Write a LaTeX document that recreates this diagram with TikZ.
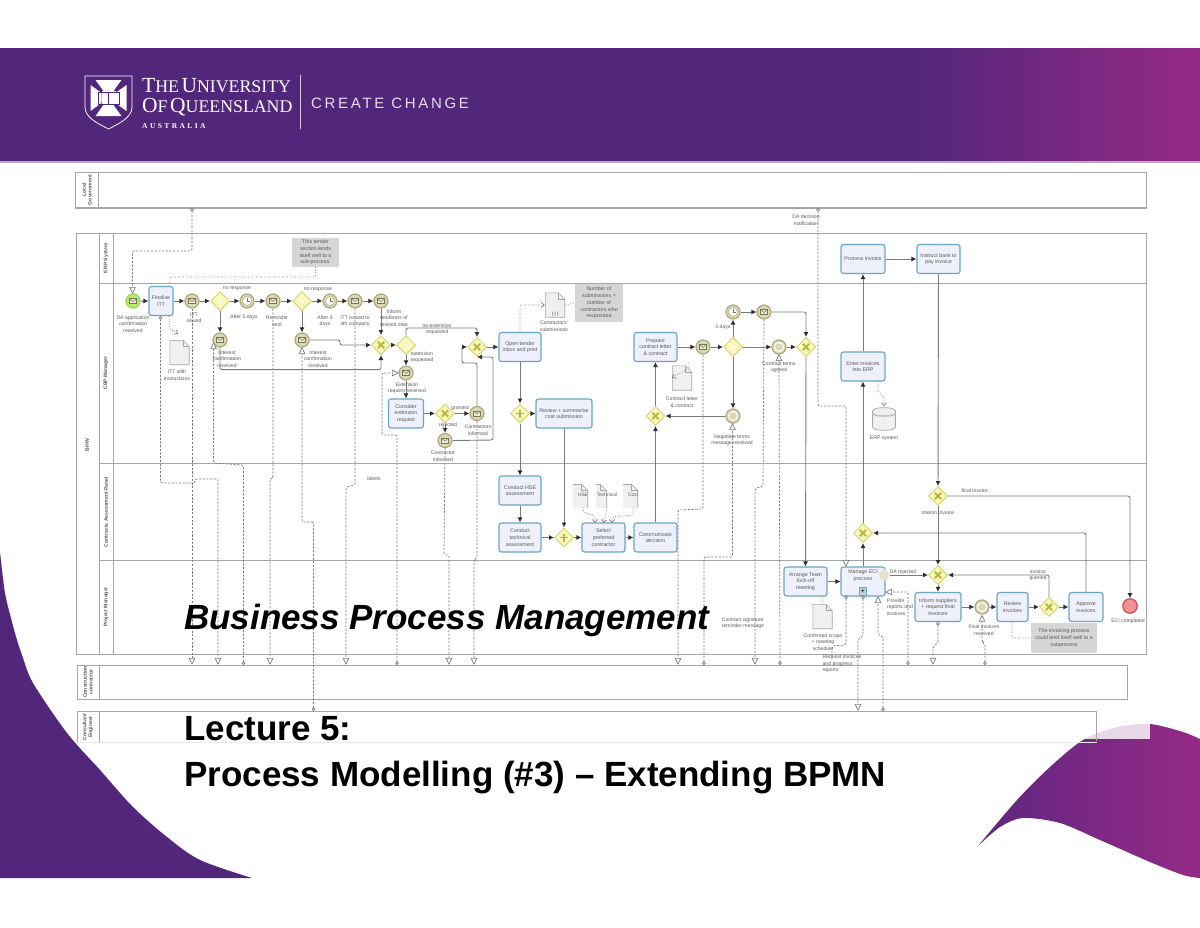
\documentclass[tikz,border=0pt]{standalone}
\usepackage{fontspec}
\setmainfont{Liberation Sans}
\newfontfamily\uqserif{Liberation Serif}
\newfontfamily\uqspaced[LetterSpace=32]{Liberation Serif}
\newfontfamily\uqcreate[LetterSpace=18]{Liberation Sans}
\usepackage{tikz}
\usetikzlibrary{arrows.meta}
\usetikzlibrary{shapes.geometric}
\definecolor{uqpurple}{HTML}{52267A}
\definecolor{uqmagenta}{HTML}{952A87}
\definecolor{swoopleft}{HTML}{5E2680}
\definecolor{poolline}{HTML}{A6A6A6}
\definecolor{flowline}{HTML}{7A7A7A}
\definecolor{tipdark}{HTML}{2E2E2E}
\definecolor{msgline}{HTML}{7C7C7C}
\definecolor{taskfill}{HTML}{EEF0FB}
\definecolor{taskline}{HTML}{6AA6C9}
\definecolor{evtfill}{HTML}{DAD7B4}
\definecolor{evtline}{HTML}{ACA97A}
\definecolor{gatefill}{HTML}{F9F8BE}
\definecolor{gateline}{HTML}{D6D66E}
\definecolor{gatemark}{HTML}{B8B83C}
\definecolor{labeltext}{HTML}{5A5A5A}
\definecolor{notefill}{HTML}{D6D6D6}
\definecolor{docfill}{HTML}{F0F0F0}
\definecolor{startfill}{HTML}{B9EC6E}
\definecolor{startline}{HTML}{9AD45A}
\definecolor{endfill}{HTML}{F09292}
\definecolor{endline}{HTML}{C85050}
\newcommand{\logobig}{\fontsize{21.5}{21.5}\selectfont}
\newcommand{\logosmall}{\fontsize{17.8}{17.8}\selectfont}
\tikzset{
  tasknode/.style={rectangle, rounded corners=2.5pt, draw=taskline, fill=taskfill, line width=1.1pt, minimum height=29pt, inner sep=0.5pt, align=center, text=labeltext, font=\fontsize{5.3}{6.6}\selectfont},
  evtbase/.style={circle, draw=evtline, fill=evtfill, line width=1.2pt, minimum size=14pt, inner sep=0pt},
  evtmail/.style={evtbase, path picture={
    \begin{scope}[shift={(path picture bounding box.center)}]
      \draw[evtline!70!black, line width=0.5pt, fill=evtfill!50!white] (-3.5,-2.5) rectangle (3.5,2.5);
      \draw[evtline!70!black, line width=0.5pt] (-3.5,-2.5) -- (0,0.5) -- (3.5,-2.5);
    \end{scope}}},
  evttimer/.style={evtbase, path picture={
    \begin{scope}[shift={(path picture bounding box.center)}]
      \draw[evtline, line width=0.5pt, fill=white] (0,0) circle (4.5);
      \draw[evtline!70!black, line width=0.5pt] (0,-3) -- (0,0) -- (2.5,0);
    \end{scope}}},
  evtring/.style={evtbase, path picture={
    \draw[white, line width=1pt] (path picture bounding box.center) circle (4.5);}},
  gatebase/.style={diamond, aspect=1, draw=gateline, fill=gatefill, line width=1pt, minimum size=19pt, inner sep=0pt},
  gatexor/.style={gatebase, path picture={
    \begin{scope}[shift={(path picture bounding box.center)}]
      \draw[gatemark, line width=1.8pt] (-3.2,-3.2) -- (3.2,3.2) (-3.2,3.2) -- (3.2,-3.2);
    \end{scope}}},
  gateand/.style={gatebase, path picture={
    \begin{scope}[shift={(path picture bounding box.center)}]
      \draw[gatemark, line width=1.8pt] (-4,0) -- (4,0) (0,-4) -- (0,4);
    \end{scope}}},
  gatepale/.style={gatebase, path picture={
    \fill[white] (path picture bounding box.center) circle (1.5);}},
  docnode/.style={rectangle, minimum width=20pt, minimum height=25pt, inner sep=0pt, text=labeltext, font=\fontsize{4.8}{5.5}\selectfont, path picture={
    \begin{scope}[shift={(path picture bounding box.center)}]
      \draw[poolline, line width=0.6pt, fill=docfill] (-9.7,-12.2) -- (3.5,-12.2) -- (9.7,-6) -- (9.7,12.2) -- (-9.7,12.2) -- cycle;
      \draw[poolline, line width=0.5pt] (3.5,-12.2) -- (3.5,-6) -- (9.7,-6);
    \end{scope}}},
  dbnode/.style={rectangle, minimum width=24pt, minimum height=25pt, inner sep=0pt, path picture={
    \begin{scope}[shift={(path picture bounding box.center)}]
      \draw[poolline, line width=0.7pt, fill=docfill] (-11.5,-8) .. controls (-11.5,-12.5) and (11.5,-12.5) .. (11.5,-8) -- (11.5,8) .. controls (11.5,12.5) and (-11.5,12.5) .. (-11.5,8) -- cycle;
      \draw[poolline!70!white, line width=1.6pt] (-11.5,-6) .. controls (-11.5,-2) and (11.5,-2) .. (11.5,-6);
    \end{scope}}},
  notebox/.style={rectangle, fill=notefill, inner sep=1pt, align=center, text=labeltext, font=\fontsize{5.3}{6.7}\selectfont},
  lbl/.style={inner sep=0pt, align=center, text=labeltext, font=\fontsize{5.1}{6.5}\selectfont},
  lanelbl/.style={rotate=90, inner sep=0pt, align=center, text=labeltext, font=\bfseries\fontsize{5.1}{5.8}\selectfont},
  poolbox/.style={draw=poolline, line width=1pt},
  seqflow/.style={draw=flowline, line width=0.9pt, rounded corners=2pt, -{Latex[length=5pt,width=5pt,color=tipdark]}},
  msgflow/.style={draw=msgline, line width=0.7pt, dash pattern=on 2.2pt off 1.5pt, rounded corners=2pt},
  msgto/.style={msgflow, -{Triangle[open,length=7pt,width=6.5pt,fill=white]}},
  msgfrom/.style={msgflow, {Circle[open,length=3.6pt,fill=white]}-},
  msgboth/.style={msgflow, {Circle[open,length=3.6pt,fill=white]}-{Triangle[open,length=7pt,width=6.5pt,fill=white]}},
  assoc/.style={draw=msgline, line width=0.7pt, dash pattern=on 0.8pt off 1.8pt, rounded corners=2pt},
  assocto/.style={assoc, -{Straight Barb[length=3pt,width=5pt]}},
  titlebold/.style={inner sep=0pt, anchor=base west, font=\bfseries\fontsize{35}{38}\selectfont}
}
\begin{document}
\begin{tikzpicture}[x=1pt, y=-1pt]
  \useasboundingbox (0,0) rectangle (1200,927);
  \fill[white] (0,0) rectangle (1200,927);

  \fill[uqpurple] (0,48) rectangle (1200,161);
  \shade[left color=uqpurple, right color=uqmagenta] (910,48) rectangle (1200,161);
  \fill[uqpurple!40!white] (0,161) rectangle (1200,162.5);
  \fill[white] (0,162.5) rectangle (1200,165);
  \fill[uqpurple] plot[smooth] coordinates {(0,552) (5,593) (12,622) (17,640) (22,655) (33,683) (67,733) (100,770) (133,807) (167,837) (200,860) (252,878)} -- (0,878) -- cycle;
  \shade[left color=swoopleft, right color=uqmagenta] plot[smooth] coordinates {(978,846) (1017,800) (1050,767) (1083,740) (1117,727) (1150,724) (1183,732) (1200,739)} -- (1200,878) -- plot[smooth] coordinates {(1200,878) (1183,875) (1150,862) (1100,840) (1060,823) (1023,818) (1000,827) (978,846)} -- cycle;
  \fill[white, opacity=0.82] (1085,722) rectangle (1150,739);

  \draw[white, line width=0.8pt] (85,76) -- (132,76) -- (132,107) .. controls (132,118) and (118,124) .. (108.5,129) .. controls (99,124) and (85,118) .. (85,107) -- cycle;
  \foreach \a in {0,90,180,270}
    \fill[white, rotate around={\a:(108.5,98)}] (95.5,80) -- (121.5,80) -- (113.5,91) -- (103.5,91) -- cycle;
  \fill[white] (101.5,91) rectangle (115.5,105);
  \draw[uqpurple, line width=0.7pt] (98,92) rectangle (119,104) (108.5,92) -- (108.5,104);
  \node[inner sep=0pt, anchor=base west, text=white] (logoa) at (142,92) {\uqserif {\logobig T}{\logosmall HE} {\logobig U}{\logosmall NIVERSITY}};
  \node[inner sep=0pt, anchor=base west, text=white] (logob) at (142,112.5) {\uqserif {\logobig O}{\logosmall F} {\logobig Q}{\logosmall UEENSLAND}};
  \node[inner sep=0pt, anchor=base west, text=white, font=\bfseries\fontsize{7.5}{8}\selectfont] (logoc) at (142,128) {\uqspaced AUSTRALIA};
  \draw[white!75!uqpurple, line width=0.6pt] (300.5,75) -- (300.5,129);
  \node[inner sep=0pt, anchor=base west, text=white!85!uqpurple, font=\fontsize{15}{16}\selectfont] (create) at (311,108) {\uqcreate CREATE CHANGE};

  \draw[poolbox] (75,172) rectangle (1146,208);
  \draw[poolbox] (98,172) -- (98,208);
  \draw[poolline, line width=1.4pt] (75,208) -- (1146,208);
  \node[lanelbl] (lgov) at (87,190) {Local\\Government};

  \draw[poolbox] (76,233) rectangle (1146,654.5);
  \draw[poolbox] (99,233) -- (99,654.5);
  \draw[poolbox] (113,233) -- (113,654.5);
  \draw[poolbox] (99,283) -- (1146,283);
  \draw[poolbox] (99,463) -- (1146,463);
  \draw[poolbox] (99,560) -- (1146,560);
  \node[lanelbl] (bhw) at (87,445) {BHW};
  \node[lanelbl] (lanea) at (106,258) {ERP System};
  \node[lanelbl] (laneb) at (106,373) {CBP Manager};
  \node[lanelbl] (lanec) at (106,512) {Contracts Assessment Panel};
  \node[lanelbl] (laned) at (106,607) {Project Manager};

  \draw[poolbox] (77,665) rectangle (1127,699);
  \draw[poolbox] (99.5,665) -- (99.5,699);
  \node[lanelbl] (pcc) at (88,682) {Construction\\contractor};

  \draw[poolline, line width=1pt] (77,742) -- (77,711) -- (1096.5,711) -- (1096.5,741);
  \draw[poolline, line width=1pt] (99.5,711) -- (99.5,742);
  \draw[poolline!25!white, line width=0.6pt] (77,742) -- (1096.5,742);
  \node[lanelbl] (pce) at (88,727) {Consultant\\Engineer};

  \coordinate (lgova) at (192,208);
  \coordinate (lgovb) at (818,208);
  \coordinate (cca) at (192,665);
  \coordinate (ccb) at (218,665);
  \coordinate (ccc) at (243.5,665);
  \coordinate (ccd) at (270,665);
  \coordinate (cce) at (346,665);
  \coordinate (ccf) at (397,665);
  \coordinate (ccg) at (449,665);
  \coordinate (cch) at (474,665);
  \coordinate (cci) at (678,665);
  \coordinate (ccj) at (704,665);
  \coordinate (cck) at (755,665);
  \coordinate (ccl) at (780,665);
  \coordinate (ccm) at (908,665);
  \coordinate (ccn) at (933,665);
  \coordinate (cco) at (985,665);
  \coordinate (cea) at (313.5,711);
  \coordinate (ceb) at (858,711);
  \coordinate (cec) at (883,711);

  \node[evtmail, draw=startline, fill=startfill] (start) at (133,301) {};
  \node[tasknode, minimum width=24pt, right of=start, node distance=28pt] (finalise) {Finalise\\ITT};
  \node[evtmail, right of=finalise, node distance=31pt] (ittissued) {};
  \node[gatepale, right of=ittissued, node distance=28pt] (gatea) {};
  \node[evttimer, right of=gatea, node distance=27pt] (timera) {};
  \node[evtmail, right of=timera, node distance=26pt] (reminder) {};
  \node[gatepale, right of=reminder, node distance=29pt] (gateb) {};
  \node[evttimer, right of=gateb, node distance=28pt] (timerb) {};
  \node[evtmail, right of=timerb, node distance=25pt] (ittfour) {};
  \node[evtmail, right of=ittfour, node distance=26pt] (inform) {};
  \node[evtmail, below of=gatea, node distance=39pt] (interesta) {};
  \node[evtmail, below of=gateb, node distance=39pt] (interestb) {};
  \node[gatexor, below of=inform, node distance=44pt] (xora) {};
  \node[gatepale, right of=xora, node distance=25pt] (gatec) {};
  \node[evtmail, below of=gatec, node distance=28pt] (extreq) {};
  \node[tasknode, minimum width=35pt] (consider) at (406,413.5) {Consider\\extension\\request};
  \node[gatexor, right of=consider, node distance=39pt] (xorb) {};
  \node[evtmail, right of=xorb, node distance=32pt] (granted) {};
  \node[evtmail, below of=xorb, node distance=27pt] (rejected) {};
  \node[gatexor] (xorc) at (477,347) {};
  \node[tasknode, minimum width=42pt, right of=xorc, node distance=43pt] (opentender) {Open tender\\inbox and print};
  \node[gateand, below of=opentender, node distance=66.5pt] (anda) {};
  \node[tasknode, minimum width=56pt, right of=anda, node distance=44pt] (review) {Review + summarise\\cost submission};
  \node[tasknode, minimum width=42pt] (hse) at (520,490.5) {Conduct HSE\\assessment};
  \node[tasknode, minimum width=42pt, below of=hse, node distance=47pt] (technical) {Conduct\\technical\\assessment};
  \node[gateand, right of=technical, node distance=44pt] (andb) {};
  \node[tasknode, minimum width=43pt, right of=andb, node distance=39.5pt] (select) {Select\\preferred\\contractor};
  \node[tasknode, minimum width=43pt, right of=select, node distance=52pt] (communicate) {Communicate\\decision};
  \node[gatexor] (xord) at (655.5,416) {};
  \node[tasknode, minimum width=43pt] (prepare) at (655.5,347) {Prepare\\contract letter\\\& contract};
  \node[evtmail, right of=prepare, node distance=47.5pt] (sent) {};
  \node[gatepale, right of=sent, node distance=30pt] (gated) {};
  \node[evttimer, above of=gated, node distance=35pt] (timerc) {};
  \node[evtmail, right of=timerc, node distance=31pt] (chase) {};
  \node[evtring, right of=gated, node distance=46pt] (agreed) {};
  \node[gatexor, right of=agreed, node distance=27pt] (xore) {};
  \node[evtring, below of=gated, node distance=69pt] (negotiate) {};
  \node[tasknode, minimum width=43pt] (arrange) at (805.5,581.5) {Arrange Team\\Kick-off\\meeting};
  \node[tasknode, minimum width=44pt, right of=arrange, node distance=57.5pt] (manage) {Manage ECI\\process\\[6pt]};
  \node[rectangle, draw=taskline, fill=taskline!45!white, line width=0.7pt, minimum size=7.5pt, inner sep=0pt, font=\bfseries\fontsize{7}{7}\selectfont, text=tipdark] (subplus) at (863,591.5) {+};
  \node[evtbase, minimum size=10pt, draw=evtfill!60!white, fill=evtfill!75!white] (daboundary) at (884,575) {};
  \node[gatexor] (xorf) at (863,533) {};
  \node[tasknode, minimum width=44pt] (enter) at (863,366.5) {Enter invoices\\into ERP};
  \node[tasknode, minimum width=44pt] (process) at (863,259) {Process invoice};
  \node[tasknode, minimum width=43pt, right of=process, node distance=75.5pt] (instruct) {Instruct bank to\\pay invoice};
  \node[gatexor] (xorg) at (938,496) {};
  \node[gatexor] (xorh) at (938,575) {};
  \node[tasknode, minimum width=46pt] (suppliers) at (938,607) {Inform suppliers\\+ request final\\invoices};
  \node[evtring, right of=suppliers, node distance=44pt] (finalrecv) {};
  \node[tasknode, minimum width=31pt, right of=finalrecv, node distance=30.5pt] (reviewinv) {Review\\invoices};
  \node[gatexor, right of=reviewinv, node distance=36.5pt] (xori) {};
  \node[tasknode, minimum width=34pt, right of=xori, node distance=37pt] (approve) {Approve\\invoices};
  \node[circle, draw=endline, fill=endfill, line width=1.2pt, minimum size=14.5pt, inner sep=0pt] (finish) at (1130,606) {};

  \node[docnode] (docitt) at (179.5,352.5) {};
  \node[docnode] (docsub) at (555,305) {};
  \node[docnode] (docletter) at (682,378) {};
  \node[docnode] (dochse) at (583,495) {HSE};
  \node[docnode, minimum width=22pt] (doctech) at (607,495) {Technical};
  \node[docnode] (doccost) at (633,495) {Cost};
  \node[docnode] (docscope) at (822.5,616.5) {};
  \fill[poolline] (552,311.5) rectangle (553,315.5) (554.5,311.5) rectangle (555.5,315.5) (557,311.5) rectangle (558,315.5);
  \node[dbnode] (erpdb) at (884,419) {};

  \node[notebox, minimum width=47pt, minimum height=29pt] (notetender) at (315.5,252.5) {This tender\\section lends\\itself well to a\\sub-process.};
  \node[notebox, minimum width=48pt, minimum height=38pt] (notecount) at (599,303) {Number of\\submissions =\\number of\\contractors who\\responded};
  \node[notebox, minimum width=66pt, minimum height=30pt] (noteinvoice) at (1064,638) {The invoicing process\\could lend itself well to a\\subprocess};

  \draw[seqflow] (start) -- (finalise);
  \draw[seqflow] (finalise) -- (ittissued);
  \draw[seqflow] (ittissued) -- (gatea);
  \draw[seqflow] (gatea) -- (timera);
  \draw[seqflow] (timera) -- (reminder);
  \draw[seqflow] (reminder) -- (gateb);
  \draw[seqflow] (gateb) -- (timerb);
  \draw[seqflow] (timerb) -- (ittfour);
  \draw[seqflow] (ittfour) -- (inform);
  \draw[seqflow] (gatea) -- (interesta);
  \draw[seqflow] (gateb) -- (interestb);
  \draw[seqflow] (inform) -- (xora);
  \draw[seqflow] (interesta.south) -- ++(0,22) -| (xora.south);
  \draw[seqflow] (interestb.east) -- (340,340) -- (340,345) -- (xora.west);
  \draw[seqflow] (xora) -- (gatec);
  \draw[seqflow] (gatec) -- (extreq);
  \draw[seqflow] (extreq) -- (consider);
  \draw[seqflow] (gatec.north) -- ++(0,-7) -| (xorc.north);
  \draw[seqflow] (consider) -- (xorb);
  \draw[seqflow] (xorb) -- (granted);
  \draw[seqflow] (xorb) -- (rejected);
  \draw[seqflow] (granted.north) -- (477,363) -- (462,363) -- (462,347) -- (xorc.west);
  \draw[seqflow] (rejected.east) -- (493,440) -- (493,357) -- (xorc.south);
  \draw[seqflow] (xorc) -- (opentender);
  \draw[seqflow] (opentender) -- (anda);
  \draw[seqflow] (anda) -- (review);
  \draw[seqflow] (anda) -- (hse);
  \draw[seqflow] (hse) -- (technical);
  \draw[seqflow] (technical) -- (andb);
  \draw[seqflow] (review) -- (andb);
  \draw[seqflow] (andb) -- (select);
  \draw[seqflow] (select) -- (communicate);
  \draw[seqflow] (communicate) -- (xord);
  \draw[seqflow] (xord) -- (prepare);
  \draw[seqflow] (prepare) -- (sent);
  \draw[seqflow] (sent) -- (gated);
  \draw[seqflow] (gated) -- (timerc);
  \draw[seqflow] (gated) -- (negotiate);
  \draw[seqflow] (gated) -- (agreed);
  \draw[seqflow] (timerc) -- (chase);
  \draw[seqflow] (chase.east) -| (xore.north);
  \draw[seqflow] (agreed) -- (xore);
  \draw[seqflow] (negotiate) -- (xord);
  \draw[seqflow] (xore) -- (arrange);
  \draw[seqflow] (arrange) -- (manage);
  \draw[seqflow] (manage) -- (xorf);
  \draw[seqflow] (xorf) -- (enter);
  \draw[seqflow] (enter) -- (process);
  \draw[seqflow] (process) -- (instruct);
  \draw[seqflow] (instruct) -- (xorg);
  \draw[seqflow] (xorg.east) -| (finish.north);
  \draw[seqflow] (xorg) -- (xorh);
  \draw[seqflow] (daboundary) -- (xorh);
  \draw[seqflow] (xorh) -- (suppliers);
  \draw[seqflow] (suppliers) -- (finalrecv);
  \draw[seqflow] (finalrecv) -- (reviewinv);
  \draw[seqflow] (reviewinv) -- (xori);
  \draw[seqflow] (xori) -- (approve);
  \draw[seqflow] (xori.north) |- (xorh.east);
  \draw[seqflow] (approve.north) |- (xorf.east);

  \coordinate (startport) at (132.5,294);
  \coordinate (finalisea) at (160.5,316);
  \coordinate (intaport) at (213.5,342);
  \coordinate (intbport) at (302,347);
  \coordinate (extport) at (399,373);
  \coordinate (negport) at (732.5,423);
  \coordinate (agrport) at (779,354);
  \coordinate (ecia) at (846,595.5);
  \coordinate (ecib) at (863,595.5);
  \coordinate (ecic) at (878,596);
  \coordinate (ecid) at (885,592);
  \coordinate (topmanage) at (846,567);
  \coordinate (scopeend) at (832,657);

  \draw[msgboth] (lgova) -- (192,251) -- (132.5,251) -- (startport);
  \draw[msgboth] (lgovb) -- (818,406) -- (846,406) -- (topmanage);
  \draw[msgboth] (finalisea) -- (160.5,483) -- (195,483) -- (195,479) -- (218,479) -- (ccb);
  \draw[msgto] (ittissued.south) -- (cca);
  \draw[msgboth] (ccc) -- (243.5,465) -- (213.5,463) -- (intaport);
  \draw[msgto] (reminder.south) -- (273,478) -- (270,479) -- (ccd);
  \draw[msgboth] (cea) -- (313.5,522) -- (302,522) -- (intbport);
  \draw[msgto] (ittfour.south) -- (355,485) -- (346,487) -- (cce);
  \draw[msgboth] (ccf) -- (397,435) -- (382,435) -- (382,373) -- (extport);
  \draw[msgto] (rejected.south) -- (444,555) -- (449,555) -- (ccg);
  \draw[msgto] (granted.south) -- (477,559) -- (474,560) -- (cch);
  \draw[msgto] (sent.south) -- (703,509) -- (678,510) -- (cci);
  \draw[msgboth] (ccj) -- (704,557) -- (732.5,557) -- (negport);
  \draw[msgto] (chase.south) -- (763,487) -- (755,488) -- (cck);
  \draw[msgboth] (ccl) -- (agrport);
  \draw[msgfrom] (ecia) -- (846,645) -- (832,646) -- (scopeend);
  \draw[msgboth] (ecib) -- (863,637) -- (858,638) -- (ceb);
  \draw[msgboth] (cec) -- (883,636) -- (878,635) -- (ecic);
  \draw[msgboth] (ccm) -- (908,592) -- (ecid);
  \draw[msgboth] (suppliers.south) -- (938,643) -- (933,646) -- (ccn);
  \draw[msgboth] (cco) -- (985,643) -- (982,642) -- (finalrecv.south);

  \draw[assoc] (notetender.south) -- (315.5,277) -- (170,277) -- (170,287);
  \draw[assocto] (169,316) -- (169,328) -- (178,334);
  \draw[assocto] (opentender.north) -- (520,305) -- (docsub.west);
  \draw[assoc] (docsub.east) -- (notecount.west);
  \draw[assocto] (689,362) -- (689,368) -- (672,378);
  \draw[assocto] (dochse.south) -- (583,512) -- (595,516) -- (595,523);
  \draw[assocto] (doctech.south) -- (603.5,523);
  \draw[assocto] (doccost.south) -- (633,515) -- (612,517) -- (612,523);
  \draw[assoc] (822,596) -- (docscope.north);
  \draw[assocto] (878,381) -- (878,392) -- (884,397) -- (erpdb.north);
  \draw[assoc] (1012,622) -- (1012,638) -- (noteinvoice.west);

  \node[lbl] (tda) at (133,324) {DA application\\confirmation\\received};
  \node[lbl] (tittissued) at (194,318) {ITT\\issued};
  \node[lbl] (tnoa) at (237,289) {no response};
  \node[lbl] (tafter) at (244,317) {After 5 days};
  \node[lbl] (treminder) at (277,321) {Reminder\\sent};
  \node[lbl] (tnob) at (318,290) {no response};
  \node[lbl] (tafterb) at (325,321) {After 3\\days};
  \node[lbl] (tfour) at (355,321) {ITT issued to\\4th company};
  \node[lbl] (tinform) at (394,318) {Inform\\tenderers of\\revised date};
  \node[lbl] (titt) at (177,375) {ITT with\\instructions};
  \node[lbl] (tinta) at (227,359) {Interest\\confirmation\\received};
  \node[lbl] (tintb) at (318,359) {Interest\\confirmation\\received};
  \node[lbl] (tnoext) at (437,329) {no extension\\requested};
  \node[lbl] (text) at (422,357) {extension\\requested};
  \node[lbl] (textreq) at (407,388) {Extension\\request received};
  \node[lbl] (tgranted) at (460,408) {granted};
  \node[lbl] (trejected) at (448,425) {rejected};
  \node[lbl] (tinformeda) at (443,456) {Contractor\\informed};
  \node[lbl] (tinformedb) at (478,430) {Contractors\\informed};
  \node[lbl] (tlabels) at (374,479) {labels};
  \node[lbl] (tsubm) at (554,326) {Contractors'\\submissions};
  \node[lbl] (tletter) at (682,402) {Contract letter\\\& contract};
  \node[lbl] (tdays) at (723,327) {3 days};
  \node[lbl] (tagreed) at (779,367) {Contract terms\\agreed};
  \node[lbl] (tnegotiate) at (732,440) {Negotiate terms\\message received};
  \node[lbl] (tdecision) at (806,220) {DA decision\\notification};
  \node[lbl] (terp) at (884,438) {ERP system};
  \node[lbl] (tfinal) at (975,491) {final invoice};
  \node[lbl] (tinterim) at (938,513) {interim invoice};
  \node[lbl] (trejecteda) at (903,572) {DA rejected};
  \node[lbl] (tqueried) at (1038,575) {invoice\\queried};
  \node[lbl, align=left] (tprovide) at (900,607) {Provide\\reports and\\invoices};
  \node[lbl] (tfinalrecv) at (984,630) {Final invoices\\received};
  \node[lbl] (teci) at (1128,621) {ECI completed};
  \node[lbl] (tscope) at (823,642) {Confirmed scope\\+ meeting\\schedule};
  \node[lbl, align=left] (trequest) at (842,664) {Request invoices\\and progress\\reports};
  \node[lbl, align=left] (tsignature) at (743,623) {Contract signature\\reminder message};

  \node[titlebold, font=\bfseries\itshape\fontsize{35}{38}\selectfont] (titlea) at (184,629) {Business Process Management};
  \node[titlebold] (titleb) at (184,740) {Lecture 5:};
  \node[titlebold] (titlec) at (184,786) {Process Modelling (\#3) – Extending BPMN};
\end{tikzpicture}
\end{document}
